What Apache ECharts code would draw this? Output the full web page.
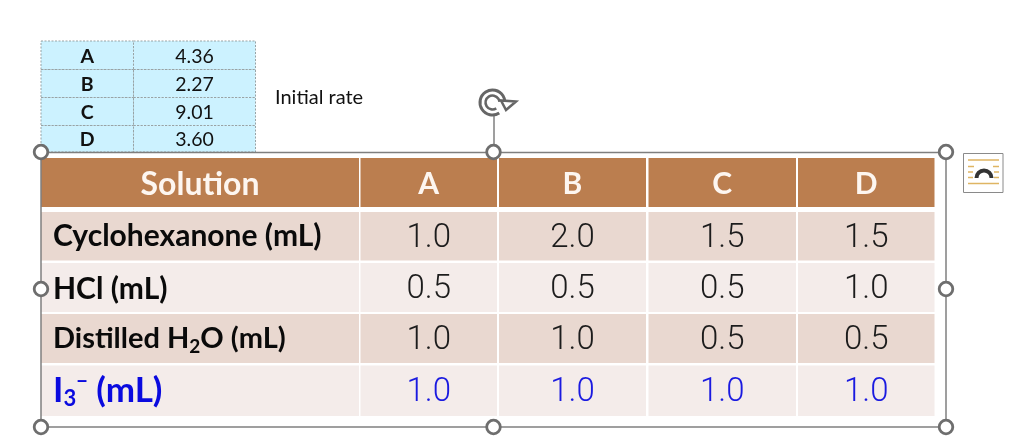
<!DOCTYPE html>
<html>
<head>
<meta charset="utf-8">
<style>html,body{margin:0;padding:0;background:#fff}#main{width:1024px;height:436px}</style>
<script src="https://cdn.jsdelivr.net/npm/echarts@6/dist/echarts.min.js"></script>
</head>
<body>
<div id="main"></div>
<script>
// small table above
var rateLabels = ['A', 'B', 'C', 'D'];
var rateValues = ['4.36', '2.27', '9.01', '3.60'];
var rateTitle = 'Initial rate';

// main table
var solutions = ['A', 'B', 'C', 'D'];
var headerLabel = 'Solution';
var rowLabels = [
    'Cyclohexanone (mL)',
    'HCl (mL)',
    '{water|Distilled H}{sub|2}{water|O (mL)}',
    '{iodide|I}{iodideSub|3}{iodideSup|\u2212}{iodide| (mL)}'
];
var cyclohexanone = [1.0, 2.0, 1.5, 1.5];
var hcl = [0.5, 0.5, 0.5, 1.0];
var water = [1.0, 1.0, 0.5, 0.5];
var iodide = [1.0, 1.0, 1.0, 1.0];
var rowValues = [cyclohexanone, hcl, water, iodide];

// layout of the screenshot, in page pixels
var colEdges = [[41, 359], [360.5, 497], [499, 646], [648.5, 796], [798, 934.5]];
var rowEdges = [[158, 207], [212, 260.5], [263, 312], [314, 363], [365.5, 416]];
var rateColEdges = [41, 133.5, 255.5];
var rateRowEdges = [41, 69.5, 97.5, 125.5, 152];

var FRAME = '#7f7f7f';
var HANDLE = '#6e6e6e';
var HEAD_FONT = 'Lato';
var VALUE_FONT = 'Roboto';
var LABEL = 'Lato';
var GOLD = '#dfb563';

var cells = [];
function addCell(col, row, text, fill, color, size, weight, align, font, dy) {
    cells.push({value: [col, row], text: text, fill: fill, color: color, size: size, weight: weight, align: align, font: font, dy: dy});
}
addCell(0, 0, headerLabel, '#bb7e4f', '#fdf6f0', 32, 700, 'center', HEAD_FONT, 3);
solutions.forEach(function (s, i) {
    addCell(i + 1, 0, s, '#bb7e4f', '#fdf6f0', 30, 700, 'center', HEAD_FONT, 3);
});
rowLabels.forEach(function (label, r) {
    var fill = r % 2 === 0 ? '#e9d8d0' : '#f4ecea';
    var color = r === 3 ? '#0a0adf' : '#0a0a0a';
    addCell(0, r + 1, label, fill, color, 30, 700, 'left', LABEL, r === 1 ? 2.5 : 1);
    rowValues[r].forEach(function (v, c) {
        addCell(c + 1, r + 1, v.toFixed(1), fill, r === 3 ? '#1a1ae0' : '#1c1c1c', 33, 300, 'center', VALUE_FONT, 3);
    });
});

var rich = {
    water: {fontSize: 29, fontWeight: 700, fontFamily: LABEL, fill: '#0a0a0a', color: '#0a0a0a'},
    sub: {fontSize: 19, fontWeight: 700, fontFamily: LABEL, fill: '#0a0a0a', color: '#0a0a0a', verticalAlign: 'bottom', padding: [16, 0, 0, 0]},
    iodide: {fontSize: 35, fontWeight: 700, fontFamily: LABEL, fill: '#0a0adf', color: '#0a0adf'},
    iodideSub: {fontSize: 22, fontWeight: 700, fontFamily: LABEL, fill: '#0a0adf', color: '#0a0adf', verticalAlign: 'bottom', padding: [16, 0, 0, 0]},
    iodideSup: {fontSize: 20, fontWeight: 700, fontFamily: LABEL, fill: '#0a0adf', color: '#0a0adf', verticalAlign: 'top', padding: [0, 0, 14, 0]}
};

var rateCells = [];
rateLabels.forEach(function (l, i) {
    rateCells.push({value: [0, i], text: l, weight: 700});
    rateCells.push({value: [1, i], text: rateValues[i], weight: 400});
});

function rectBetween(api, x0, x1, y0, y1) {
    var a = api.coord([x0, y0]);
    var b = api.coord([x1, y1]);
    return {x: a[0], y: a[1], width: b[0] - a[0], height: b[1] - a[1]};
}

function renderCell(params, api) {
    var d = cells[params.dataIndex];
    var col = colEdges[d.value[0]];
    var row = rowEdges[d.value[1]];
    var r = rectBetween(api, col[0], col[1], row[0], row[1]);
    return {
        type: 'group',
        children: [
            {type: 'rect', shape: r, style: {fill: d.fill}},
            {
                type: 'text',
                style: {
                    text: d.text,
                    x: d.align === 'left' ? r.x + 12 : r.x + r.width / 2,
                    y: r.y + r.height / 2 - 1 + d.dy,
                    align: d.align,
                    verticalAlign: 'middle',
                    fill: d.color,
                    fontSize: d.size,
                    fontWeight: d.weight,
                    fontFamily: d.font,
                    rich: rich
                }
            }
        ]
    };
}

function renderRateCell(params, api) {
    var d = rateCells[params.dataIndex];
    var c = d.value[0], w = d.value[1];
    var r = rectBetween(api, rateColEdges[c], rateColEdges[c + 1], rateRowEdges[w], rateRowEdges[w + 1]);
    return {
        type: 'group',
        children: [
            {type: 'rect', shape: r, style: {fill: '#ccf2ff', stroke: '#98a3a5', lineWidth: 1, lineDash: [2, 1.5]}},
            {
                type: 'text',
                style: {
                    text: d.text,
                    x: r.x + r.width / 2,
                    y: r.y + r.height / 2 + 1,
                    align: 'center',
                    verticalAlign: 'middle',
                    fill: '#111',
                    fontSize: 19.5,
                    fontWeight: d.weight,
                    fontFamily: LABEL
                }
            }
        ]
    };
}

function handle(x, y) {
    return {type: 'circle', shape: {cx: x, cy: y, r: 6.8}, style: {fill: '#fff', stroke: HANDLE, lineWidth: 2.8}, z: 20};
}
function line(x1, y1, x2, y2, color, w) {
    return {type: 'line', shape: {x1: x1, y1: y1, x2: x2, y2: y2}, style: {stroke: color, lineWidth: w}, z: 15};
}
function arc(cx, cy, r, start, end, color, w) {
    return {type: 'arc', shape: {cx: cx, cy: cy, r: r, startAngle: start, endAngle: end}, style: {fill: 'none', stroke: color, lineWidth: w}, z: 20};
}

var selection = [
    line(41, 152.5, 946, 152.5, FRAME, 1.5),
    line(946, 152.5, 946, 427, FRAME, 1.5),
    line(41, 427, 946, 427, FRAME, 1.5),
    line(41, 152.5, 41, 427, FRAME, 1.5),
    line(494, 115, 494, 152, FRAME, 1.5),
    handle(41, 152), handle(493.5, 152), handle(946, 152),
    handle(41, 289), handle(946, 289),
    handle(41, 427), handle(493.5, 427), handle(946, 427),
    // rotate icon
    arc(492.5, 102.5, 12.5, 1.0, 6.25, '#666', 3),
    arc(492.5, 102.5, 7, 1.0, 6.2, '#666', 2.5),
    {type: 'polygon', z: 21, shape: {points: [[516, 101.5], [501, 100.5], [506, 110]]}, style: {fill: '#fff', stroke: '#666', lineWidth: 2.5}},
    // layout options button
    {type: 'rect', z: 14, shape: {x: 963.5, y: 153.5, width: 39.5, height: 39}, style: {fill: '#fff', stroke: '#8a8a8a', lineWidth: 1}},
    line(968, 160, 999, 160, GOLD, 1.5),
    line(968, 183.5, 999, 183.5, GOLD, 1.5),
    line(968, 166.5, 974, 166.5, GOLD, 1.5),
    line(993, 166.5, 999, 166.5, GOLD, 1.5),
    line(968, 172, 973, 172, GOLD, 1.5),
    line(994, 172, 999, 172, GOLD, 1.5),
    line(968, 177.5, 973, 177.5, GOLD, 1.5),
    line(994, 177.5, 999, 177.5, GOLD, 1.5),
    arc(984, 178, 7.5, Math.PI, Math.PI * 2, '#333', 4)
];

var chart = echarts.init(document.getElementById('main'));
chart.setOption({
    animation: false,
    backgroundColor: '#ffffff',
    grid: {left: 0, right: 0, top: 0, bottom: 0},
    xAxis: {type: 'value', min: 0, max: 1024, show: false},
    yAxis: {type: 'value', min: 0, max: 436, inverse: true, show: false},
    graphic: selection.concat([
        {type: 'text', z: 20, style: {text: rateTitle, x: 275, y: 98, verticalAlign: 'middle', fontSize: 20, fontFamily: LABEL, fill: '#111'}}
    ]),
    series: [
        {type: 'custom', silent: true, data: rateCells, renderItem: renderRateCell, clip: false},
        {type: 'custom', silent: true, data: cells, renderItem: renderCell, clip: false}
    ]
});
</script>
</body>
</html>
